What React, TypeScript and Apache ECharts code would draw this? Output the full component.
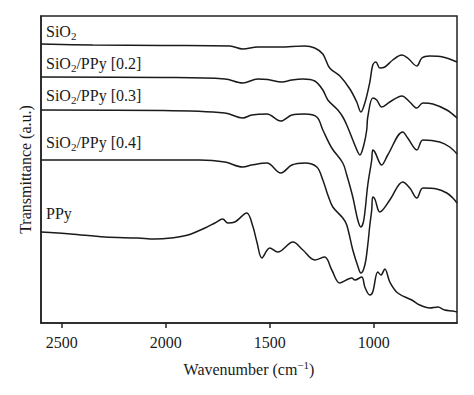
import React, { useEffect, useRef } from "react";
import * as echarts from "echarts";

// [wavenumber (cm^-1), transmittance (a.u.)]
const sio2: number[][] = [
  [2600, 279], [2351, 278], [2014, 277.5], [1692, 277], [1630, 274], [1558, 276],
  [1452, 276], [1332, 277], [1284, 275], [1245, 269], [1212, 255], [1163, 247],
  [1115, 234], [1082, 221], [1062, 211], [1043, 220], [1019, 241], [1005, 258],
  [990, 261], [971, 255], [947, 256], [909, 263], [865, 268], [837, 265],
  [793, 257], [769, 265], [731, 267], [668, 266], [600, 261],
];
const ppy02: number[][] = [
  [2600, 246], [2014, 245.5], [1716, 244], [1630, 240], [1558, 244], [1510, 243.5],
  [1442, 241], [1394, 243], [1341, 244], [1284, 242], [1245, 233], [1221, 223],
  [1173, 213], [1149, 206], [1130, 198], [1101, 183], [1077, 171], [1067, 168],
  [1048, 178], [1034, 193], [1029, 206], [1005, 225], [986, 223], [962, 216],
  [923, 221], [865, 227], [827, 221], [793, 215], [764, 220], [716, 219],
  [649, 213], [600, 205],
];
const ppy03: number[][] = [
  [2600, 213], [2014, 212.5], [1716, 210], [1630, 205], [1587, 208], [1514, 209],
  [1447, 202], [1394, 208], [1332, 209], [1274, 206], [1245, 193], [1202, 175],
  [1149, 160], [1130, 148], [1101, 126], [1077, 103], [1062, 96], [1048, 103],
  [1029, 138], [1010, 163], [1005, 173], [995, 171], [962, 158], [933, 168],
  [861, 191], [837, 185], [793, 173], [764, 183], [683, 181], [635, 176], [600, 169],
];
const ppy04: number[][] = [
  [2600, 163], [1837, 163], [1716, 161], [1630, 156], [1587, 158], [1514, 160],
  [1447, 150], [1394, 158], [1332, 160], [1274, 156], [1245, 143], [1221, 128],
  [1197, 116], [1149, 105], [1130, 98], [1101, 73], [1077, 57], [1062, 50],
  [1043, 58], [1029, 78], [1019, 98], [1010, 113], [1005, 126], [995, 124],
  [971, 111], [923, 123], [861, 141], [827, 135], [793, 125], [764, 135],
  [697, 134], [649, 130], [620, 125], [600, 120],
];
const ppy: number[][] = [
  [2600, 91], [2457, 89], [2293, 86], [2135, 85], [2053, 84], [1976, 85],
  [1894, 88], [1812, 95], [1764, 100], [1726, 104], [1702, 100], [1668, 101],
  [1611, 110], [1582, 97], [1562, 81], [1538, 65], [1500, 75], [1462, 71],
  [1389, 81], [1341, 73], [1284, 63], [1236, 66], [1202, 53], [1163, 40],
  [1106, 45], [1091, 43], [1058, 46], [1043, 36], [1019, 28], [1005, 31],
  [981, 51], [966, 48], [947, 54], [923, 41], [885, 30], [817, 23], [779, 18],
  [731, 15], [692, 16], [659, 13], [620, 12], [600, 11],
];

const seriesNames = ["SiO2", "SiO2/PPy [0.2]", "SiO2/PPy [0.3]", "SiO2/PPy [0.4]", "PPy"];
const seriesLabels = [
  "{n|SiO}{sub|2}",
  "{n|SiO}{sub|2}{n|/PPy [0.2]}",
  "{n|SiO}{sub|2}{n|/PPy [0.3]}",
  "{n|SiO}{sub|2}{n|/PPy [0.4]}",
  "{n|PPy}",
];
const xTicks = [1000, 1500, 2000, 2500];

const FONT = "'Liberation Serif', 'DejaVu Serif', serif";
const INK = "#1a1a1a";

export default function App() {
  const ref = useRef<HTMLDivElement>(null);
  useEffect(() => {
    if (!ref.current) return;
    const chart = echarts.init(ref.current, undefined, { renderer: "svg" });
    const all = [sio2, ppy02, ppy03, ppy04, ppy];
    const labelY = [33, 65, 97, 144, 215];
    const rich = {
      n: { fontSize: 16, fontFamily: FONT, lineHeight: 20, verticalAlign: "middle", fill: INK },
      sub: { fontSize: 11, fontFamily: FONT, verticalAlign: "bottom", lineHeight: 10, fill: INK },
    };
    chart.setOption({
      animation: false,
      backgroundColor: "#fff",
      grid: {
        left: 41, right: 17, top: 16, bottom: 72,
        show: true, borderColor: "#222", borderWidth: 1.5,
      },
      xAxis: {
        type: "value",
        min: 600, max: 2600, inverse: true,
        name: "{n|Wavenumber (cm}{sup|−1}{n|)}",
        nameLocation: "middle",
        nameGap: 36,
        nameTextStyle: {
          fontFamily: FONT, fontSize: 16, color: INK,
          rich: {
            n: { fontSize: 16, fontFamily: FONT, lineHeight: 20, verticalAlign: "middle", color: INK },
            sup: { fontSize: 11, fontFamily: FONT, verticalAlign: "top", lineHeight: 10, color: INK },
          },
        },
        axisLine: { show: true, lineStyle: { color: "#222", width: 1.5 } },
        axisTick: { show: true, length: 5, customValues: xTicks, lineStyle: { color: "#222", width: 1.5 } },
        axisLabel: {
          customValues: xTicks, fontFamily: FONT, fontSize: 16, color: INK, margin: 11,
          formatter: (v: number) => String(v),
        },
        splitLine: { show: false },
      },
      yAxis: {
        type: "value",
        min: 0, max: 307,
        name: "Transmittance (a.u.)",
        nameLocation: "middle",
        nameGap: 8,
        nameTextStyle: { fontFamily: FONT, fontSize: 16, color: INK },
        axisLine: { show: true, lineStyle: { color: "#222", width: 1.5 } },
        axisTick: { show: false },
        axisLabel: { show: false },
        splitLine: { show: false },
      },
      series: all.map((d, i) => ({
        name: seriesNames[i],
        type: "line",
        data: d,
        smooth: 0.35,
        showSymbol: false,
        lineStyle: { color: INK, width: 1.5 },
      })),
      graphic: seriesLabels.map((t, i) => ({
        type: "text",
        left: 46,
        top: labelY[i] - 10,
        style: {
          text: t,
          fontFamily: FONT,
          fontSize: 16,
          fill: INK,
          rich,
        },
      })),
    });
    return () => chart.dispose();
  }, []);
  return (
    <div
      ref={ref}
      style={{ position: "absolute", left: 0, top: 0, width: 474, height: 395 }}
    />
  );
}
